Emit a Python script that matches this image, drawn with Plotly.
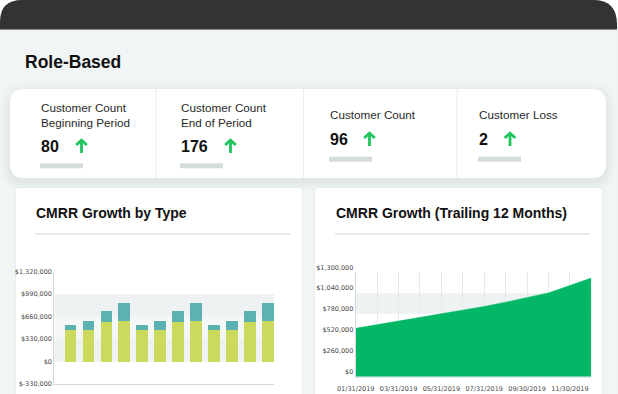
import plotly.graph_objects as go

W, H = 618, 394

# ---------------- data ----------------
kpi_labels = ["Customer Count<br>Beginning Period", "Customer Count<br>End of Period",
              "Customer Count", "Customer Loss"]
kpi_values = ["80", "176", "96", "2"]

bar_months = ["Jan", "Feb", "Mar", "Apr", "May", "Jun", "Jul", "Aug", "Sep", "Oct", "Nov", "Dec"]
bar_base = [470000, 470000, 575000, 590000, 470000, 470000, 575000, 590000, 470000, 470000, 575000, 590000]
bar_growth = [60000, 125000, 170000, 275000, 60000, 125000, 170000, 275000, 60000, 125000, 170000, 275000]
left_tick_vals = [-330000, 0, 330000, 660000, 990000, 1320000]
left_tick_text = ["$-330,000", "$0", "$330,000", "$660,000", "$990,000", "$1,320,000"]

trail_dates = ["01/31/2019", "02/28/2019", "03/31/2019", "04/30/2019", "05/31/2019", "06/30/2019",
               "07/31/2019", "08/31/2019", "09/30/2019", "10/31/2019", "11/30/2019", "12/31/2019"]
trail_values = [603000, 647000, 691000, 736000, 780000, 824000,
                875000, 928000, 985000, 1044000, 1137000, 1230000]
trail_tick_text = ["01/31/2019", "", "03/31/2019", "", "05/31/2019", "", "07/31/2019", "",
                   "09/30/2019", "", "11/30/2019", ""]
right_tick_vals = [0, 260000, 520000, 780000, 1040000, 1300000]
right_tick_text = ["$0", "$260,000", "$520,000", "$780,000", "$1,040,000", "$1,300,000"]

# ---------------- colours / fonts ----------------
BG = "#f1f5f5"
DARK = "#333333"
YELLOW = "#cbda5c"
TEAL = "#5cb2b0"
GREEN = "#03b766"
ARROW = "#1ec45c"
SANS = "Liberation Sans, Arial, sans-serif"


def fx(x):
    return x / W


def fy(y):
    return 1 - y / H


def pt(x, y):
    return f"{fx(x):.5f},{fy(y):.5f}"


def rrect(x0, y0, x1, y1, r):
    return (f"M {pt(x0 + r, y0)} L {pt(x1 - r, y0)} Q {pt(x1, y0)} {pt(x1, y0 + r)} "
            f"L {pt(x1, y1 - r)} Q {pt(x1, y1)} {pt(x1 - r, y1)} L {pt(x0 + r, y1)} "
            f"Q {pt(x0, y1)} {pt(x0, y1 - r)} L {pt(x0, y0 + r)} Q {pt(x0, y0)} {pt(x0 + r, y0)} Z")


shapes = []


def add_path(path, color, line_color=None, lw=0):
    shapes.append(dict(type="path", path=path, xref="paper", yref="paper", layer="below",
                       fillcolor=color, line=dict(color=line_color or color, width=lw)))


def add_rect(x0, y0, x1, y1, color):
    shapes.append(dict(type="rect", xref="paper", yref="paper", layer="below",
                       x0=fx(x0), x1=fx(x1), y0=fy(y1), y1=fy(y0),
                       fillcolor=color, line=dict(width=0)))


def add_line(x0, y0, x1, y1, color, w=1, layer="below"):
    shapes.append(dict(type="line", xref="paper", yref="paper", layer=layer,
                       x0=fx(x0), x1=fx(x1), y0=fy(y0), y1=fy(y1),
                       line=dict(color=color, width=w)))


# device body
add_rect(0, 28, 617, 394, BG)
add_line(617, 20, 617, 394, "#e2e8e8", 1)
# dark header with rounded corners
add_path(f"M {pt(0, 29)} L {pt(0, 22)} Q {pt(0, 0)} {pt(22, 0)} L {pt(593, 0)} "
         f"Q {pt(617, 0)} {pt(617, 24)} L {pt(617, 29)} Z", DARK)
add_line(0, 29.5, 617, 29.5, "#8c8c8c", 1)

# KPI card shadow + card
for i, a in enumerate([0.035, 0.03, 0.025, 0.02]):
    e = 2 + 2.5 * i
    add_path(rrect(10 - e, 89 - e + 3, 606 + e, 178 + e + 3, 14 + e), f"rgba(120,140,140,{a})")
add_path(rrect(10, 89, 606, 178, 14), "#ffffff")
for xd in [156, 303.5, 457]:
    add_line(xd, 89, xd, 178, "#e8eded", 1)

# lower panels
for (a, b) in [(16, 302), (315, 602)]:
    add_path(rrect(a - 1, 187, b + 1, 400, 3), "rgba(205,215,215,0.22)")
    add_path(rrect(a, 188, b, 400, 3), "#ffffff")
add_line(35, 234, 290, 234, "#dde3e3", 1.5)
add_line(335, 234, 590, 234, "#dde3e3", 1.5)

# KPI placeholder bars
kpi_x = [40, 180, 329, 478]
kpi_bar_y = [163.3, 163.3, 156.7, 156.7]
for x0, yb in zip(kpi_x, kpi_bar_y):
    add_rect(x0, yb, x0 + 43, yb + 5, "#d3dcdb")

# KPI up arrows (shaft + chevron head)
arrow_cx = [81.5, 230.5, 369.5, 510]
arrow_top = [139.5, 139.5, 132.5, 132.5]
for cx, ty in zip(arrow_cx, arrow_top):
    add_line(cx, ty + 1, cx, ty + 13.5, ARROW, 2.8, "above")
    shapes.append(dict(type="path", xref="paper", yref="paper", layer="above",
                       path=f"M {pt(cx - 5.3, ty + 5.6)} L {pt(cx, ty + 0.6)} L {pt(cx + 5.3, ty + 5.6)}",
                       line=dict(color=ARROW, width=2.8)))

# chart bands (data-referenced)
for lo, hi, c in [(0, 330000, "#eef2f2"), (330000, 660000, "#f5f7f7"), (660000, 990000, "#eef2f2")]:
    shapes.append(dict(type="rect", xref="x domain", yref="y", x0=0, x1=1, y0=lo, y1=hi,
                       layer="below", fillcolor=c, line=dict(width=0)))
shapes.append(dict(type="rect", xref="x2 domain", yref="y2", x0=0, x1=1, y0=780000, y1=1040000,
                   layer="below", fillcolor="#eef2f2", line=dict(width=0)))

# ---------------- annotations ----------------
ann = []


def text(x, y, s, size, color="#222222", family=SANS, weight="normal"):
    ann.append(dict(x=fx(x), y=fy(y), xref="paper", yref="paper", text=s, showarrow=False,
                    xanchor="left", yanchor="middle", align="left",
                    font=dict(size=size, color=color, family=family, weight=weight)))


text(23, 62, "Role-Based", 17.5, "#111111", SANS, "bold")
kpi_label_y = [114.5, 114.5, 115, 115]
kpi_val_y = [147, 147, 139, 139]
for i in range(4):
    text(kpi_x[i] - 1, kpi_label_y[i], kpi_labels[i], 11.7, "#2a2a2a")
    text(kpi_x[i] - 1, kpi_val_y[i], kpi_values[i], 16, "#111111", SANS, "bold")

text(34, 213, "CMRR Growth by Type", 14, "#111111", SANS, "bold")
text(334, 213, "CMRR Growth (Trailing 12 Months)", 14, "#111111", SANS, "bold")

# ---------------- traces ----------------
fig = go.Figure()
fig.add_trace(go.Bar(x=bar_months, y=bar_base, marker=dict(color=YELLOW, line=dict(width=0)),
                     xaxis="x", yaxis="y", showlegend=False, hoverinfo="skip"))
fig.add_trace(go.Bar(x=bar_months, y=bar_growth, marker=dict(color=TEAL, line=dict(width=0)),
                     xaxis="x", yaxis="y", showlegend=False, hoverinfo="skip"))
fig.add_trace(go.Scatter(x=trail_dates, y=trail_values, mode="lines", fill="tozeroy",
                         line=dict(color=GREEN, width=0.5), fillcolor=GREEN,
                         xaxis="x2", yaxis="y2", showlegend=False, hoverinfo="skip"))

tickfont = dict(size=6.5, color="#4a4a4a", family="DejaVu Sans")
fig.update_layout(
    width=W, height=H, margin=dict(l=0, r=0, t=0, b=0, pad=0, autoexpand=False),
    paper_bgcolor="#ffffff", plot_bgcolor="rgba(0,0,0,0)",
    barmode="stack", bargap=0.36,
    shapes=shapes, annotations=ann, showlegend=False,
    xaxis=dict(domain=[fx(54.3), fx(274)], range=[-0.89, 11.33], type="category",
               showticklabels=False, showline=True, linecolor="#d4dada", linewidth=1,
               showgrid=False, zeroline=False, ticks="", anchor="y", fixedrange=True,
               automargin=False),
    yaxis=dict(domain=[fy(384), fy(271.7)], range=[-330000, 1320000],
               tickvals=left_tick_vals, ticktext=left_tick_text, tickfont=tickfont,
               showline=True, linecolor="#d4dada", linewidth=1, showgrid=False,
               zeroline=False, ticks="", anchor="x", fixedrange=True, automargin=False),
    xaxis2=dict(domain=[fx(355.7), fx(591.3)], type="category", range=[0, 11],
                tickvals=trail_dates, ticktext=trail_tick_text, tickfont=tickfont,
                showgrid=True, gridcolor="#e5ebeb", gridwidth=1, showline=True,
                linecolor="#dfe6e6", zeroline=False, ticks="", ticklabelstandoff=5,
                anchor="y2", fixedrange=True, automargin=False),
    yaxis2=dict(domain=[fy(376.7), fy(271.7)], range=[0, 1308000],
                tickvals=right_tick_vals, ticktext=right_tick_text, tickfont=tickfont,
                showline=True, linecolor="#d4dada", linewidth=1, showgrid=False,
                zeroline=False, ticks="", ticklabelshift=-5, anchor="x2", fixedrange=True,
                automargin=False),
)

fig.write_html("out.html", config={"displayModeBar": False},
               post_script="document.body.style.margin='0';document.body.style.overflow='hidden';")
